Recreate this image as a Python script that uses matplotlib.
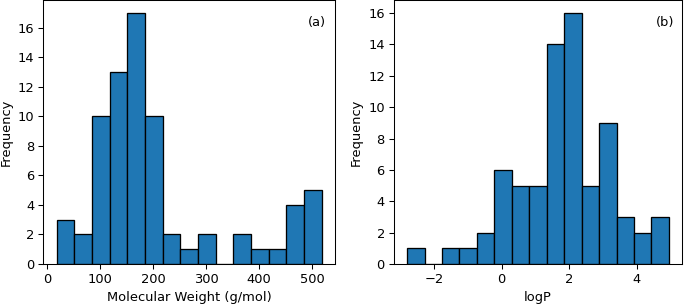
import numpy as np
import matplotlib
matplotlib.use('Agg')
import matplotlib.pyplot as plt

## histogram counts
mw_counts = [3, 2, 10, 13, 17, 10, 2, 1, 2, 0, 2, 1, 1, 4, 5]
mw_range = (18.0, 518.0)
logp_counts = [1, 0, 1, 1, 2, 6, 5, 5, 14, 16, 5, 9, 3, 2, 3]
logp_range = (-2.80, 4.95)

DPI = 94  # reference looks like a downscaled render, so shrink everything a bit

def draw_hist(ax, counts, rng, xlabel, tag, tag_x):
	edges = np.linspace(rng[0], rng[1], len(counts) + 1)
	centers = (edges[:-1] + edges[1:]) / 2
	ax.hist(centers, bins=edges, weights=counts, color='#1f77b4', edgecolor='black', linewidth=1.0)
	ax.set_xlabel(xlabel)
	ax.set_ylabel('Frequency')
	ax.text(tag_x, 0.94, tag, transform=ax.transAxes, ha='right', va='top')

fig = plt.figure(figsize=(685 / DPI, 304 / DPI), dpi=DPI)
ax1 = fig.add_axes([0.0632, 0.1316, 0.4258, 0.8668])
ax2 = fig.add_axes([0.5752, 0.1316, 0.4204, 0.8668])

draw_hist(ax1, mw_counts, mw_range, 'Molecular Weight (g/mol)', '(a)', 0.97)
draw_hist(ax2, logp_counts, logp_range, 'logP', '(b)', 0.975)

fig.savefig('out.png', dpi=DPI)
